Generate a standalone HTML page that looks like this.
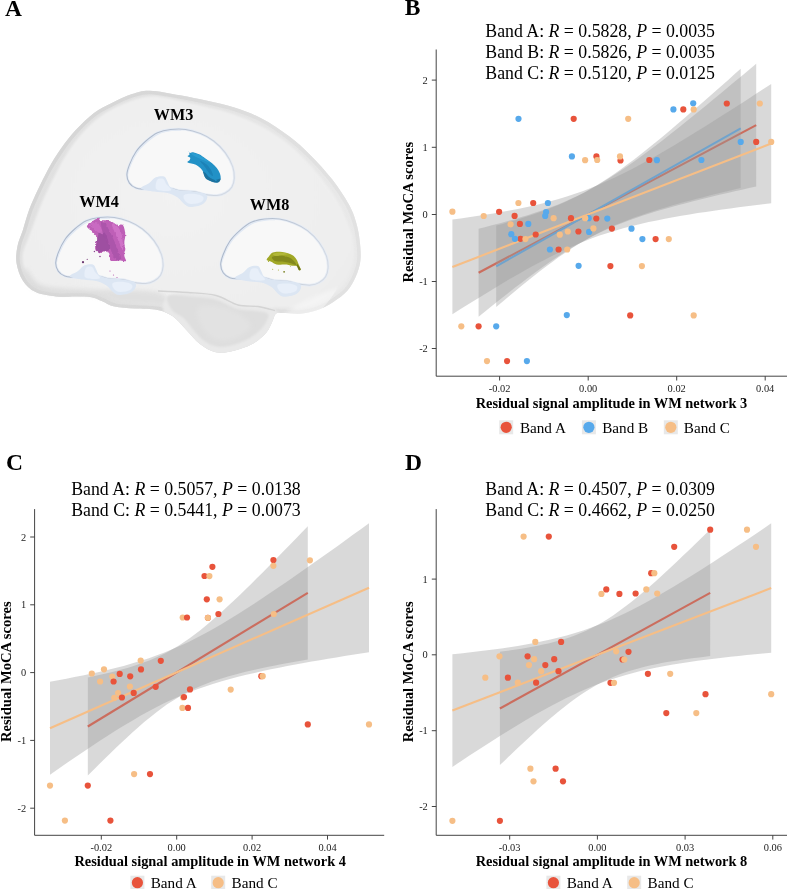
<!DOCTYPE html>
<html><head><meta charset="utf-8"><title>Figure</title>
<style>
html,body{margin:0;padding:0;background:#fff}
svg{display:block}
text{font-family:"Liberation Serif","Times New Roman",serif;fill:#000}
.tk{font-size:10.4px;fill:#1c1c1c}
.ax{font-size:14.6px;font-weight:bold}
.axx{font-size:14.4px;font-weight:bold}
.an{font-size:17.8px}
.it{font-style:italic}
.lg{font-size:15.2px}
.pl{font-size:23.5px;font-weight:bold}
.wm{font-size:16.2px;font-weight:bold}
</style></head><body>
<svg width="787" height="889" viewBox="0 0 787 889">
<rect width="787" height="889" fill="#fff"/>
<g id="panelA"><defs><filter id="bl1" x="-5%" y="-5%" width="110%" height="110%"><feGaussianBlur stdDeviation="1.3"/></filter><filter id="bl2" x="-10%" y="-20%" width="120%" height="140%"><feGaussianBlur stdDeviation="2.2"/></filter><filter id="bl3"><feGaussianBlur stdDeviation="0.5"/></filter><filter id="rg" x="-10%" y="-10%" width="120%" height="120%"><feTurbulence type="fractalNoise" baseFrequency="0.35" numOctaves="2" seed="3"/><feDisplacementMap in="SourceGraphic" scale="3.2" xChannelSelector="R" yChannelSelector="G"/></filter><filter id="rg2" x="-10%" y="-10%" width="120%" height="120%"><feTurbulence type="fractalNoise" baseFrequency="0.4" numOctaves="2" seed="7"/><feDisplacementMap in="SourceGraphic" scale="1.6" xChannelSelector="R" yChannelSelector="G"/></filter><radialGradient id="bg1" cx="0.45" cy="0.4" r="0.7"><stop offset="0" stop-color="#F2F2F2"/><stop offset="0.8" stop-color="#EEEEEE"/><stop offset="1" stop-color="#EAEAEA"/></radialGradient><linearGradient id="rimg" gradientUnits="userSpaceOnUse" x1="16" y1="0" x2="361" y2="0"><stop offset="0" stop-color="#D5D5D5"/><stop offset="0.45" stop-color="#D8D8D8"/><stop offset="0.75" stop-color="#DFDFDF"/><stop offset="1" stop-color="#E2E2E2"/></linearGradient><linearGradient id="bandg" gradientUnits="userSpaceOnUse" x1="16" y1="0" x2="361" y2="0"><stop offset="0" stop-color="#E0E0E0"/><stop offset="0.5" stop-color="#E2E2E2"/><stop offset="1" stop-color="#E9E9E9"/></linearGradient><linearGradient id="sbg" x1="0" y1="0.3" x2="1" y2="0.5"><stop offset="0" stop-color="#A9B5C7"/><stop offset="0.45" stop-color="#B9C3D2"/><stop offset="1" stop-color="#D3D9E2"/></linearGradient></defs><clipPath id="oc"><path d="M149.9 90.7C141.9 90.5 138.4 92.0 132.1 94.0C125.8 96.0 118.1 99.7 111.8 102.9C105.5 106.1 99.9 108.5 94.0 113.0C88.1 117.5 81.7 123.7 76.2 129.6C70.7 135.5 65.7 142.0 61.0 148.6C56.4 155.2 52.1 162.1 48.3 168.9C44.5 175.7 41.3 182.5 38.1 189.3C34.9 196.1 31.7 202.8 29.2 209.6C26.7 216.4 24.8 223.8 22.9 229.9C20.9 236.0 18.6 240.5 17.5 246.0C16.4 251.5 15.6 257.2 16.5 263.0C17.4 268.8 19.7 275.8 22.9 280.7C26.1 285.6 30.1 289.5 35.6 292.1C41.1 294.7 49.1 295.7 55.9 296.4C62.7 297.1 70.3 296.3 76.2 296.4C82.1 296.5 87.3 296.4 91.5 297.2C95.7 298.0 97.8 299.4 101.6 301.0C105.4 302.6 108.9 305.3 114.4 306.6C119.9 307.9 127.5 308.1 134.7 308.6C141.9 309.2 151.2 308.6 157.6 309.9C163.9 311.2 168.2 313.0 172.8 316.2C177.5 319.4 181.0 324.3 185.5 328.9C190.0 333.5 194.9 340.1 200.0 344.0C205.1 347.9 210.5 351.2 215.9 352.3C221.3 353.4 226.6 352.3 232.7 350.9C238.8 349.5 246.7 346.9 252.3 343.9C257.9 340.9 262.8 336.5 266.2 332.7C269.6 328.9 270.9 324.2 272.5 321.0C274.1 317.8 274.2 314.8 276.0 313.5C277.8 312.2 279.0 313.1 283.0 313.1C287.0 313.1 294.2 314.2 299.8 313.7C305.4 313.2 311.0 312.3 316.6 310.3C322.2 308.3 328.2 305.1 333.3 301.9C338.4 298.6 343.6 295.0 347.3 290.8C351.0 286.6 353.5 281.9 355.7 276.8C357.9 271.7 359.9 266.1 360.5 260.0C361.1 253.9 360.4 246.3 359.6 240.0C358.9 233.7 357.8 228.0 356.0 222.0C354.2 216.0 352.6 211.2 348.6 204.1C344.7 197.0 338.7 187.8 332.3 179.6C325.9 171.4 317.8 162.4 310.5 155.2C303.2 147.9 296.9 142.2 288.8 136.1C280.7 130.0 270.7 123.2 261.6 118.5C252.5 113.8 243.5 110.5 234.4 107.6C225.3 104.6 216.3 102.8 207.2 100.8C198.1 98.8 189.6 97.0 180.0 95.3C170.4 93.6 157.9 90.9 149.9 90.7Z"/></clipPath><path d="M149.9 90.7C141.9 90.5 138.4 92.0 132.1 94.0C125.8 96.0 118.1 99.7 111.8 102.9C105.5 106.1 99.9 108.5 94.0 113.0C88.1 117.5 81.7 123.7 76.2 129.6C70.7 135.5 65.7 142.0 61.0 148.6C56.4 155.2 52.1 162.1 48.3 168.9C44.5 175.7 41.3 182.5 38.1 189.3C34.9 196.1 31.7 202.8 29.2 209.6C26.7 216.4 24.8 223.8 22.9 229.9C20.9 236.0 18.6 240.5 17.5 246.0C16.4 251.5 15.6 257.2 16.5 263.0C17.4 268.8 19.7 275.8 22.9 280.7C26.1 285.6 30.1 289.5 35.6 292.1C41.1 294.7 49.1 295.7 55.9 296.4C62.7 297.1 70.3 296.3 76.2 296.4C82.1 296.5 87.3 296.4 91.5 297.2C95.7 298.0 97.8 299.4 101.6 301.0C105.4 302.6 108.9 305.3 114.4 306.6C119.9 307.9 127.5 308.1 134.7 308.6C141.9 309.2 151.2 308.6 157.6 309.9C163.9 311.2 168.2 313.0 172.8 316.2C177.5 319.4 181.0 324.3 185.5 328.9C190.0 333.5 194.9 340.1 200.0 344.0C205.1 347.9 210.5 351.2 215.9 352.3C221.3 353.4 226.6 352.3 232.7 350.9C238.8 349.5 246.7 346.9 252.3 343.9C257.9 340.9 262.8 336.5 266.2 332.7C269.6 328.9 270.9 324.2 272.5 321.0C274.1 317.8 274.2 314.8 276.0 313.5C277.8 312.2 279.0 313.1 283.0 313.1C287.0 313.1 294.2 314.2 299.8 313.7C305.4 313.2 311.0 312.3 316.6 310.3C322.2 308.3 328.2 305.1 333.3 301.9C338.4 298.6 343.6 295.0 347.3 290.8C351.0 286.6 353.5 281.9 355.7 276.8C357.9 271.7 359.9 266.1 360.5 260.0C361.1 253.9 360.4 246.3 359.6 240.0C358.9 233.7 357.8 228.0 356.0 222.0C354.2 216.0 352.6 211.2 348.6 204.1C344.7 197.0 338.7 187.8 332.3 179.6C325.9 171.4 317.8 162.4 310.5 155.2C303.2 147.9 296.9 142.2 288.8 136.1C280.7 130.0 270.7 123.2 261.6 118.5C252.5 113.8 243.5 110.5 234.4 107.6C225.3 104.6 216.3 102.8 207.2 100.8C198.1 98.8 189.6 97.0 180.0 95.3C170.4 93.6 157.9 90.9 149.9 90.7Z" fill="url(#bandg)"/><path d="M149.9 90.7C141.9 90.5 138.4 92.0 132.1 94.0C125.8 96.0 118.1 99.7 111.8 102.9C105.5 106.1 99.9 108.5 94.0 113.0C88.1 117.5 81.7 123.7 76.2 129.6C70.7 135.5 65.7 142.0 61.0 148.6C56.4 155.2 52.1 162.1 48.3 168.9C44.5 175.7 41.3 182.5 38.1 189.3C34.9 196.1 31.7 202.8 29.2 209.6C26.7 216.4 24.8 223.8 22.9 229.9C20.9 236.0 18.6 240.5 17.5 246.0C16.4 251.5 15.6 257.2 16.5 263.0C17.4 268.8 19.7 275.8 22.9 280.7C26.1 285.6 30.1 289.5 35.6 292.1C41.1 294.7 49.1 295.7 55.9 296.4C62.7 297.1 70.3 296.3 76.2 296.4C82.1 296.5 87.3 296.4 91.5 297.2C95.7 298.0 97.8 299.4 101.6 301.0C105.4 302.6 108.9 305.3 114.4 306.6C119.9 307.9 127.5 308.1 134.7 308.6C141.9 309.2 151.2 308.6 157.6 309.9C163.9 311.2 168.2 313.0 172.8 316.2C177.5 319.4 181.0 324.3 185.5 328.9C190.0 333.5 194.9 340.1 200.0 344.0C205.1 347.9 210.5 351.2 215.9 352.3C221.3 353.4 226.6 352.3 232.7 350.9C238.8 349.5 246.7 346.9 252.3 343.9C257.9 340.9 262.8 336.5 266.2 332.7C269.6 328.9 270.9 324.2 272.5 321.0C274.1 317.8 274.2 314.8 276.0 313.5C277.8 312.2 279.0 313.1 283.0 313.1C287.0 313.1 294.2 314.2 299.8 313.7C305.4 313.2 311.0 312.3 316.6 310.3C322.2 308.3 328.2 305.1 333.3 301.9C338.4 298.6 343.6 295.0 347.3 290.8C351.0 286.6 353.5 281.9 355.7 276.8C357.9 271.7 359.9 266.1 360.5 260.0C361.1 253.9 360.4 246.3 359.6 240.0C358.9 233.7 357.8 228.0 356.0 222.0C354.2 216.0 352.6 211.2 348.6 204.1C344.7 197.0 338.7 187.8 332.3 179.6C325.9 171.4 317.8 162.4 310.5 155.2C303.2 147.9 296.9 142.2 288.8 136.1C280.7 130.0 270.7 123.2 261.6 118.5C252.5 113.8 243.5 110.5 234.4 107.6C225.3 104.6 216.3 102.8 207.2 100.8C198.1 98.8 189.6 97.0 180.0 95.3C170.4 93.6 157.9 90.9 149.9 90.7Z" fill="none" stroke="url(#rimg)" stroke-width="7" clip-path="url(#oc)" filter="url(#bl3)"/><path d="M152.5 96.3C144.0 96.4 137.0 98.6 129.0 101.5C121.0 104.4 111.9 108.7 104.5 113.5C97.1 118.3 90.8 123.8 84.5 130.5C78.2 137.2 72.4 145.1 67.0 153.5C61.6 161.9 56.5 172.1 52.0 181.0C47.5 189.9 43.7 198.2 40.0 207.0C36.3 215.8 32.9 225.8 30.0 234.0C27.1 242.2 23.0 249.3 22.5 256.0C22.0 262.7 24.4 269.0 27.0 274.0C29.6 279.0 33.2 283.2 38.0 286.0C42.8 288.8 49.0 290.1 56.0 291.0C63.0 291.9 72.7 291.0 80.0 291.5C87.3 292.0 93.7 292.4 100.0 294.0C106.3 295.6 111.3 299.4 118.0 301.0C124.7 302.6 133.0 302.8 140.0 303.5C147.0 304.2 154.0 303.8 160.0 305.0C166.0 306.2 171.3 308.2 176.0 311.0C180.7 313.8 183.8 317.7 188.0 322.0C192.2 326.3 196.3 333.0 201.0 337.0C205.7 341.0 210.8 344.7 216.0 346.0C221.2 347.3 226.5 346.3 232.0 345.0C237.5 343.7 244.0 340.8 249.0 338.0C254.0 335.2 258.8 331.7 262.0 328.0C265.2 324.3 266.3 319.3 268.0 316.0C269.7 312.7 269.2 309.4 272.0 308.0C274.8 306.6 280.3 307.5 285.0 307.5C289.7 307.5 294.8 308.5 300.0 308.0C305.2 307.5 310.8 306.4 316.0 304.5C321.2 302.6 326.5 299.6 331.0 296.5C335.5 293.4 339.8 289.9 343.0 286.0C346.2 282.1 348.7 277.7 350.5 273.0C352.3 268.3 353.6 263.5 354.0 258.0C354.4 252.5 353.7 244.9 353.0 240.0C352.3 235.1 352.4 235.0 349.9 228.6C347.3 222.2 343.4 210.9 337.7 201.4C332.0 191.9 324.0 181.0 315.9 171.5C307.8 162.0 297.9 151.8 288.8 144.3C279.8 136.8 270.7 131.6 261.6 126.6C252.5 121.6 243.5 117.7 234.4 114.4C225.3 111.1 216.1 109.3 207.0 107.0C197.9 104.7 189.1 102.6 180.0 100.8C170.9 99.0 161.0 96.2 152.5 96.3Z" fill="url(#bg1)" filter="url(#bl1)"/><path d="M26.0 268.0C28.3 269.0 32.7 280.6 40.0 284.0C47.3 287.4 58.3 287.5 70.0 288.5C81.7 289.5 96.7 289.6 110.0 290.0C123.3 290.4 140.8 290.0 150.0 291.0C159.2 292.0 161.3 293.5 165.0 296.0C168.7 298.5 174.5 304.5 172.0 306.0C169.5 307.5 159.0 305.5 150.0 305.0C141.0 304.5 126.3 304.3 118.0 303.0C109.7 301.7 106.3 298.5 100.0 297.0C93.7 295.5 87.5 294.5 80.0 294.0C72.5 293.5 62.5 294.8 55.0 294.0C47.5 293.2 39.8 291.7 35.0 289.0C30.2 286.3 27.5 281.5 26.0 278.0C24.5 274.5 23.7 267.0 26.0 268.0Z" fill="#DCDCDC" filter="url(#bl2)" opacity="0.8"/><g clip-path="url(#oc)"><path d="M174.0 294.0C177.7 293.0 181.0 292.0 188.0 292.2C195.0 292.4 207.5 292.9 215.9 295.0C224.3 297.1 231.3 302.8 238.3 304.7C245.3 306.6 251.5 305.2 257.8 306.1C264.1 307.0 272.3 307.2 276.0 310.3C279.7 313.4 280.5 320.2 280.0 325.0C279.5 329.8 276.8 334.7 273.0 339.0C269.2 343.3 263.5 347.8 257.0 351.0C250.5 354.2 241.2 356.7 234.0 358.0C226.8 359.3 220.2 359.8 214.0 359.0C207.8 358.2 202.0 356.0 197.0 353.0C192.0 350.0 188.0 345.3 184.0 341.0C180.0 336.7 176.2 331.0 173.0 327.0C169.8 323.0 166.7 320.5 165.0 317.0C163.3 313.5 162.8 309.2 163.0 306.0C163.2 302.8 164.2 300.0 166.0 298.0C167.8 296.0 170.3 295.0 174.0 294.0Z" fill="#E9E9E9" filter="url(#bl1)"/><path d="M168.0 296.0C171.0 293.8 182.2 295.9 190.0 296.5C197.8 297.1 207.2 297.4 215.0 299.5C222.8 301.6 230.2 307.1 237.0 309.0C243.8 310.9 250.8 310.2 256.0 311.0C261.2 311.8 266.5 311.8 268.0 314.0C269.5 316.2 266.7 321.0 265.0 324.0C263.3 327.0 261.2 329.3 258.0 332.0C254.8 334.7 250.5 337.8 246.0 340.0C241.5 342.2 235.8 344.4 231.0 345.5C226.2 346.6 221.3 347.2 217.0 346.5C212.7 345.8 208.7 343.9 205.0 341.5C201.3 339.1 198.5 335.8 195.0 332.0C191.5 328.2 187.8 322.2 184.0 318.5C180.2 314.8 174.7 313.8 172.0 310.0C169.3 306.2 165.0 298.2 168.0 296.0Z" fill="#DEDEDE" filter="url(#bl1)"/><path d="M200.0 306.0C204.5 304.3 217.5 306.0 225.0 308.0C232.5 310.0 240.8 314.7 245.0 318.0C249.2 321.3 251.7 324.7 250.0 328.0C248.3 331.3 240.3 336.0 235.0 338.0C229.7 340.0 222.8 341.0 218.0 340.0C213.2 339.0 209.3 335.7 206.0 332.0C202.7 328.3 199.0 322.3 198.0 318.0C197.0 313.7 195.5 307.7 200.0 306.0Z" fill="#E2E2E2" filter="url(#bl2)"/></g><path d="M158.0 291.0C163.0 291.2 178.3 291.8 188.0 292.5C197.7 293.2 207.7 293.4 216.0 295.5C224.3 297.6 231.0 303.2 238.0 305.0C245.0 306.8 251.8 305.6 258.0 306.5C264.2 307.4 272.2 309.8 275.0 310.5" fill="none" stroke="#D4D4D4" stroke-width="1.3" filter="url(#bl3)"/><ellipse cx="322" cy="306" rx="44" ry="12" fill="#fff" opacity="0.4" filter="url(#bl2)" clip-path="url(#oc)" transform="rotate(-22 322 306)"/><g transform="translate(0,0)"><clipPath id="sc0"><path d="M55.7 262.9C55.7 259.9 56.7 256.8 58.2 252.9C59.7 249.0 62.0 243.7 64.8 239.7C67.5 235.7 71.1 232.2 74.7 229.0C78.3 225.8 82.2 222.6 86.3 220.7C90.4 218.8 94.8 217.9 99.5 217.4C104.2 216.9 109.5 216.7 114.4 217.4C119.4 218.1 124.5 219.7 129.2 221.6C133.9 223.5 138.4 225.8 142.5 229.0C146.6 232.2 150.8 236.3 154.0 240.6C157.2 244.9 160.0 250.3 161.5 254.6C163.0 258.9 163.2 262.8 163.1 266.2C162.9 269.6 162.1 272.7 160.6 275.2C159.1 277.7 156.5 279.6 154.0 281.0C151.5 282.4 149.1 283.2 145.8 283.5C142.5 283.8 137.9 283.1 134.0 282.5C130.1 281.9 126.7 280.2 122.6 279.6C118.5 279.0 113.2 279.3 109.4 278.8C105.6 278.3 103.1 276.7 99.5 276.5C95.9 276.3 92.4 277.4 88.0 277.5C83.6 277.6 77.0 277.4 73.1 277.2C69.2 277.0 67.3 277.1 64.8 276.1C62.3 275.1 59.7 273.3 58.2 271.1C56.7 268.9 55.7 265.9 55.7 262.9Z"/></clipPath><path d="M55.7 262.9C55.7 259.9 56.7 256.8 58.2 252.9C59.7 249.0 62.0 243.7 64.8 239.7C67.5 235.7 71.1 232.2 74.7 229.0C78.3 225.8 82.2 222.6 86.3 220.7C90.4 218.8 94.8 217.9 99.5 217.4C104.2 216.9 109.5 216.7 114.4 217.4C119.4 218.1 124.5 219.7 129.2 221.6C133.9 223.5 138.4 225.8 142.5 229.0C146.6 232.2 150.8 236.3 154.0 240.6C157.2 244.9 160.0 250.3 161.5 254.6C163.0 258.9 163.2 262.8 163.1 266.2C162.9 269.6 162.1 272.7 160.6 275.2C159.1 277.7 156.5 279.6 154.0 281.0C151.5 282.4 149.1 283.2 145.8 283.5C142.5 283.8 137.9 283.1 134.0 282.5C130.1 281.9 126.7 280.2 122.6 279.6C118.5 279.0 113.2 279.3 109.4 278.8C105.6 278.3 103.1 276.7 99.5 276.5C95.9 276.3 92.4 277.4 88.0 277.5C83.6 277.6 77.0 277.4 73.1 277.2C69.2 277.0 67.3 277.1 64.8 276.1C62.3 275.1 59.7 273.3 58.2 271.1C56.7 268.9 55.7 265.9 55.7 262.9Z" fill="#DDE6F3"/><g clip-path="url(#sc0)"><path d="M55.7 262.9C55.7 259.9 56.7 256.8 58.2 252.9C59.7 249.0 62.0 243.7 64.8 239.7C67.5 235.7 71.1 232.2 74.7 229.0C78.3 225.8 82.2 222.6 86.3 220.7C90.4 218.8 94.8 217.9 99.5 217.4C104.2 216.9 109.5 216.7 114.4 217.4C119.4 218.1 124.5 219.7 129.2 221.6C133.9 223.5 138.4 225.8 142.5 229.0C146.6 232.2 150.8 236.3 154.0 240.6C157.2 244.9 160.0 250.3 161.5 254.6C163.0 258.9 163.2 262.8 163.1 266.2C162.9 269.6 162.1 272.7 160.6 275.2C159.1 277.7 156.5 279.6 154.0 281.0C151.5 282.4 149.1 283.2 145.8 283.5C142.5 283.8 137.9 283.1 134.0 282.5C130.1 281.9 126.7 280.2 122.6 279.6C118.5 279.0 113.2 279.3 109.4 278.8C105.6 278.3 103.1 276.7 99.5 276.5C95.9 276.3 92.4 277.4 88.0 277.5C83.6 277.6 77.0 277.4 73.1 277.2C69.2 277.0 67.3 277.1 64.8 276.1C62.3 275.1 59.7 273.3 58.2 271.1C56.7 268.9 55.7 265.9 55.7 262.9Z" fill="#F8F8F8" transform="translate(1.1,1.7)" filter="url(#bl3)"/><rect x="110" y="210" width="60" height="80" fill="#F8F8F8"/><rect x="50" y="262" width="120" height="30" fill="#F8F8F8"/></g><path d="M55.7 262.9C55.7 259.9 56.7 256.8 58.2 252.9C59.7 249.0 62.0 243.7 64.8 239.7C67.5 235.7 71.1 232.2 74.7 229.0C78.3 225.8 82.2 222.6 86.3 220.7C90.4 218.8 94.8 217.9 99.5 217.4C104.2 216.9 109.5 216.7 114.4 217.4C119.4 218.1 124.5 219.7 129.2 221.6C133.9 223.5 138.4 225.8 142.5 229.0C146.6 232.2 150.8 236.3 154.0 240.6C157.2 244.9 160.0 250.3 161.5 254.6C163.0 258.9 163.2 262.8 163.1 266.2C162.9 269.6 162.1 272.7 160.6 275.2C159.1 277.7 156.5 279.6 154.0 281.0C151.5 282.4 149.1 283.2 145.8 283.5C142.5 283.8 137.9 283.1 134.0 282.5C130.1 281.9 126.7 280.2 122.6 279.6C118.5 279.0 113.2 279.3 109.4 278.8C105.6 278.3 103.1 276.7 99.5 276.5C95.9 276.3 92.4 277.4 88.0 277.5C83.6 277.6 77.0 277.4 73.1 277.2C69.2 277.0 67.3 277.1 64.8 276.1C62.3 275.1 59.7 273.3 58.2 271.1C56.7 268.9 55.7 265.9 55.7 262.9Z" fill="none" stroke="#E6ECF5" stroke-width="2.6" filter="url(#bl3)"/><path d="M55.7 262.9C55.7 259.9 56.7 256.8 58.2 252.9C59.7 249.0 62.0 243.7 64.8 239.7C67.5 235.7 71.1 232.2 74.7 229.0C78.3 225.8 82.2 222.6 86.3 220.7C90.4 218.8 94.8 217.9 99.5 217.4C104.2 216.9 109.5 216.7 114.4 217.4C119.4 218.1 124.5 219.7 129.2 221.6C133.9 223.5 138.4 225.8 142.5 229.0C146.6 232.2 150.8 236.3 154.0 240.6C157.2 244.9 160.0 250.3 161.5 254.6C163.0 258.9 163.2 262.8 163.1 266.2C162.9 269.6 162.1 272.7 160.6 275.2C159.1 277.7 156.5 279.6 154.0 281.0C151.5 282.4 149.1 283.2 145.8 283.5C142.5 283.8 137.9 283.1 134.0 282.5C130.1 281.9 126.7 280.2 122.6 279.6C118.5 279.0 113.2 279.3 109.4 278.8C105.6 278.3 103.1 276.7 99.5 276.5C95.9 276.3 92.4 277.4 88.0 277.5C83.6 277.6 77.0 277.4 73.1 277.2C69.2 277.0 67.3 277.1 64.8 276.1C62.3 275.1 59.7 273.3 58.2 271.1C56.7 268.9 55.7 265.9 55.7 262.9Z" fill="none" stroke="url(#sbg)" stroke-width="1.05"/><path d="M69.8 276.4C69.0 275.0 75.5 273.0 78.0 271.1C80.5 269.2 82.1 266.4 84.6 265.3C87.1 264.2 91.0 263.8 92.9 264.5C94.8 265.2 95.1 267.7 96.2 269.5C97.3 271.3 97.3 273.7 99.5 275.2C101.7 276.7 105.6 277.8 109.4 278.5C113.2 279.2 118.5 278.8 122.6 279.4C126.7 280.0 132.0 280.7 134.2 281.9C136.4 283.1 136.4 285.0 135.8 286.8C135.2 288.6 133.7 291.2 130.9 292.6C128.2 294.0 122.3 295.2 119.3 295.1C116.3 295.0 114.9 293.5 112.7 291.8C110.5 290.1 108.8 287.0 106.1 285.2C103.3 283.4 100.0 281.9 96.2 281.0C92.4 280.1 87.4 280.4 83.0 279.6C78.6 278.8 70.6 277.8 69.8 276.4Z" fill="#DCE6F3" filter="url(#bl3)"/><path d="M86.0 268.0C87.2 266.3 90.5 266.3 92.0 267.0C93.5 267.7 93.7 270.2 95.0 272.0C96.3 273.8 100.3 276.8 100.0 278.0C99.7 279.2 95.5 279.2 93.0 279.0C90.5 278.8 86.2 278.8 85.0 277.0C83.8 275.2 84.8 269.7 86.0 268.0Z" fill="#E8EFF9" filter="url(#bl3)"/><path d="M113.0 283.0C114.7 281.8 120.8 281.7 124.0 282.0C127.2 282.3 131.0 283.7 132.0 285.0C133.0 286.3 132.0 288.8 130.0 290.0C128.0 291.2 122.7 292.2 120.0 292.0C117.3 291.8 115.2 290.5 114.0 289.0C112.8 287.5 111.3 284.2 113.0 283.0Z" fill="#E8EFF9" filter="url(#bl3)"/></g><g transform="translate(71.2,-88)"><clipPath id="sc71"><path d="M55.7 262.9C55.7 259.9 56.7 256.8 58.2 252.9C59.7 249.0 62.0 243.7 64.8 239.7C67.5 235.7 71.1 232.2 74.7 229.0C78.3 225.8 82.2 222.6 86.3 220.7C90.4 218.8 94.8 217.9 99.5 217.4C104.2 216.9 109.5 216.7 114.4 217.4C119.4 218.1 124.5 219.7 129.2 221.6C133.9 223.5 138.4 225.8 142.5 229.0C146.6 232.2 150.8 236.3 154.0 240.6C157.2 244.9 160.0 250.3 161.5 254.6C163.0 258.9 163.2 262.8 163.1 266.2C162.9 269.6 162.1 272.7 160.6 275.2C159.1 277.7 156.5 279.6 154.0 281.0C151.5 282.4 149.1 283.2 145.8 283.5C142.5 283.8 137.9 283.1 134.0 282.5C130.1 281.9 126.7 280.2 122.6 279.6C118.5 279.0 113.2 279.3 109.4 278.8C105.6 278.3 103.1 276.7 99.5 276.5C95.9 276.3 92.4 277.4 88.0 277.5C83.6 277.6 77.0 277.4 73.1 277.2C69.2 277.0 67.3 277.1 64.8 276.1C62.3 275.1 59.7 273.3 58.2 271.1C56.7 268.9 55.7 265.9 55.7 262.9Z"/></clipPath><path d="M55.7 262.9C55.7 259.9 56.7 256.8 58.2 252.9C59.7 249.0 62.0 243.7 64.8 239.7C67.5 235.7 71.1 232.2 74.7 229.0C78.3 225.8 82.2 222.6 86.3 220.7C90.4 218.8 94.8 217.9 99.5 217.4C104.2 216.9 109.5 216.7 114.4 217.4C119.4 218.1 124.5 219.7 129.2 221.6C133.9 223.5 138.4 225.8 142.5 229.0C146.6 232.2 150.8 236.3 154.0 240.6C157.2 244.9 160.0 250.3 161.5 254.6C163.0 258.9 163.2 262.8 163.1 266.2C162.9 269.6 162.1 272.7 160.6 275.2C159.1 277.7 156.5 279.6 154.0 281.0C151.5 282.4 149.1 283.2 145.8 283.5C142.5 283.8 137.9 283.1 134.0 282.5C130.1 281.9 126.7 280.2 122.6 279.6C118.5 279.0 113.2 279.3 109.4 278.8C105.6 278.3 103.1 276.7 99.5 276.5C95.9 276.3 92.4 277.4 88.0 277.5C83.6 277.6 77.0 277.4 73.1 277.2C69.2 277.0 67.3 277.1 64.8 276.1C62.3 275.1 59.7 273.3 58.2 271.1C56.7 268.9 55.7 265.9 55.7 262.9Z" fill="#DDE6F3"/><g clip-path="url(#sc71)"><path d="M55.7 262.9C55.7 259.9 56.7 256.8 58.2 252.9C59.7 249.0 62.0 243.7 64.8 239.7C67.5 235.7 71.1 232.2 74.7 229.0C78.3 225.8 82.2 222.6 86.3 220.7C90.4 218.8 94.8 217.9 99.5 217.4C104.2 216.9 109.5 216.7 114.4 217.4C119.4 218.1 124.5 219.7 129.2 221.6C133.9 223.5 138.4 225.8 142.5 229.0C146.6 232.2 150.8 236.3 154.0 240.6C157.2 244.9 160.0 250.3 161.5 254.6C163.0 258.9 163.2 262.8 163.1 266.2C162.9 269.6 162.1 272.7 160.6 275.2C159.1 277.7 156.5 279.6 154.0 281.0C151.5 282.4 149.1 283.2 145.8 283.5C142.5 283.8 137.9 283.1 134.0 282.5C130.1 281.9 126.7 280.2 122.6 279.6C118.5 279.0 113.2 279.3 109.4 278.8C105.6 278.3 103.1 276.7 99.5 276.5C95.9 276.3 92.4 277.4 88.0 277.5C83.6 277.6 77.0 277.4 73.1 277.2C69.2 277.0 67.3 277.1 64.8 276.1C62.3 275.1 59.7 273.3 58.2 271.1C56.7 268.9 55.7 265.9 55.7 262.9Z" fill="#F8F8F8" transform="translate(1.1,1.7)" filter="url(#bl3)"/><rect x="110" y="210" width="60" height="80" fill="#F8F8F8"/><rect x="50" y="262" width="120" height="30" fill="#F8F8F8"/></g><path d="M55.7 262.9C55.7 259.9 56.7 256.8 58.2 252.9C59.7 249.0 62.0 243.7 64.8 239.7C67.5 235.7 71.1 232.2 74.7 229.0C78.3 225.8 82.2 222.6 86.3 220.7C90.4 218.8 94.8 217.9 99.5 217.4C104.2 216.9 109.5 216.7 114.4 217.4C119.4 218.1 124.5 219.7 129.2 221.6C133.9 223.5 138.4 225.8 142.5 229.0C146.6 232.2 150.8 236.3 154.0 240.6C157.2 244.9 160.0 250.3 161.5 254.6C163.0 258.9 163.2 262.8 163.1 266.2C162.9 269.6 162.1 272.7 160.6 275.2C159.1 277.7 156.5 279.6 154.0 281.0C151.5 282.4 149.1 283.2 145.8 283.5C142.5 283.8 137.9 283.1 134.0 282.5C130.1 281.9 126.7 280.2 122.6 279.6C118.5 279.0 113.2 279.3 109.4 278.8C105.6 278.3 103.1 276.7 99.5 276.5C95.9 276.3 92.4 277.4 88.0 277.5C83.6 277.6 77.0 277.4 73.1 277.2C69.2 277.0 67.3 277.1 64.8 276.1C62.3 275.1 59.7 273.3 58.2 271.1C56.7 268.9 55.7 265.9 55.7 262.9Z" fill="none" stroke="#E6ECF5" stroke-width="2.6" filter="url(#bl3)"/><path d="M55.7 262.9C55.7 259.9 56.7 256.8 58.2 252.9C59.7 249.0 62.0 243.7 64.8 239.7C67.5 235.7 71.1 232.2 74.7 229.0C78.3 225.8 82.2 222.6 86.3 220.7C90.4 218.8 94.8 217.9 99.5 217.4C104.2 216.9 109.5 216.7 114.4 217.4C119.4 218.1 124.5 219.7 129.2 221.6C133.9 223.5 138.4 225.8 142.5 229.0C146.6 232.2 150.8 236.3 154.0 240.6C157.2 244.9 160.0 250.3 161.5 254.6C163.0 258.9 163.2 262.8 163.1 266.2C162.9 269.6 162.1 272.7 160.6 275.2C159.1 277.7 156.5 279.6 154.0 281.0C151.5 282.4 149.1 283.2 145.8 283.5C142.5 283.8 137.9 283.1 134.0 282.5C130.1 281.9 126.7 280.2 122.6 279.6C118.5 279.0 113.2 279.3 109.4 278.8C105.6 278.3 103.1 276.7 99.5 276.5C95.9 276.3 92.4 277.4 88.0 277.5C83.6 277.6 77.0 277.4 73.1 277.2C69.2 277.0 67.3 277.1 64.8 276.1C62.3 275.1 59.7 273.3 58.2 271.1C56.7 268.9 55.7 265.9 55.7 262.9Z" fill="none" stroke="url(#sbg)" stroke-width="1.05"/><path d="M69.8 276.4C69.0 275.0 75.5 273.0 78.0 271.1C80.5 269.2 82.1 266.4 84.6 265.3C87.1 264.2 91.0 263.8 92.9 264.5C94.8 265.2 95.1 267.7 96.2 269.5C97.3 271.3 97.3 273.7 99.5 275.2C101.7 276.7 105.6 277.8 109.4 278.5C113.2 279.2 118.5 278.8 122.6 279.4C126.7 280.0 132.0 280.7 134.2 281.9C136.4 283.1 136.4 285.0 135.8 286.8C135.2 288.6 133.7 291.2 130.9 292.6C128.2 294.0 122.3 295.2 119.3 295.1C116.3 295.0 114.9 293.5 112.7 291.8C110.5 290.1 108.8 287.0 106.1 285.2C103.3 283.4 100.0 281.9 96.2 281.0C92.4 280.1 87.4 280.4 83.0 279.6C78.6 278.8 70.6 277.8 69.8 276.4Z" fill="#DCE6F3" filter="url(#bl3)"/><path d="M86.0 268.0C87.2 266.3 90.5 266.3 92.0 267.0C93.5 267.7 93.7 270.2 95.0 272.0C96.3 273.8 100.3 276.8 100.0 278.0C99.7 279.2 95.5 279.2 93.0 279.0C90.5 278.8 86.2 278.8 85.0 277.0C83.8 275.2 84.8 269.7 86.0 268.0Z" fill="#E8EFF9" filter="url(#bl3)"/><path d="M113.0 283.0C114.7 281.8 120.8 281.7 124.0 282.0C127.2 282.3 131.0 283.7 132.0 285.0C133.0 286.3 132.0 288.8 130.0 290.0C128.0 291.2 122.7 292.2 120.0 292.0C117.3 291.8 115.2 290.5 114.0 289.0C112.8 287.5 111.3 284.2 113.0 283.0Z" fill="#E8EFF9" filter="url(#bl3)"/></g><g transform="translate(165,1.6)"><clipPath id="sc165"><path d="M55.7 262.9C55.7 259.9 56.7 256.8 58.2 252.9C59.7 249.0 62.0 243.7 64.8 239.7C67.5 235.7 71.1 232.2 74.7 229.0C78.3 225.8 82.2 222.6 86.3 220.7C90.4 218.8 94.8 217.9 99.5 217.4C104.2 216.9 109.5 216.7 114.4 217.4C119.4 218.1 124.5 219.7 129.2 221.6C133.9 223.5 138.4 225.8 142.5 229.0C146.6 232.2 150.8 236.3 154.0 240.6C157.2 244.9 160.0 250.3 161.5 254.6C163.0 258.9 163.2 262.8 163.1 266.2C162.9 269.6 162.1 272.7 160.6 275.2C159.1 277.7 156.5 279.6 154.0 281.0C151.5 282.4 149.1 283.2 145.8 283.5C142.5 283.8 137.9 283.1 134.0 282.5C130.1 281.9 126.7 280.2 122.6 279.6C118.5 279.0 113.2 279.3 109.4 278.8C105.6 278.3 103.1 276.7 99.5 276.5C95.9 276.3 92.4 277.4 88.0 277.5C83.6 277.6 77.0 277.4 73.1 277.2C69.2 277.0 67.3 277.1 64.8 276.1C62.3 275.1 59.7 273.3 58.2 271.1C56.7 268.9 55.7 265.9 55.7 262.9Z"/></clipPath><path d="M55.7 262.9C55.7 259.9 56.7 256.8 58.2 252.9C59.7 249.0 62.0 243.7 64.8 239.7C67.5 235.7 71.1 232.2 74.7 229.0C78.3 225.8 82.2 222.6 86.3 220.7C90.4 218.8 94.8 217.9 99.5 217.4C104.2 216.9 109.5 216.7 114.4 217.4C119.4 218.1 124.5 219.7 129.2 221.6C133.9 223.5 138.4 225.8 142.5 229.0C146.6 232.2 150.8 236.3 154.0 240.6C157.2 244.9 160.0 250.3 161.5 254.6C163.0 258.9 163.2 262.8 163.1 266.2C162.9 269.6 162.1 272.7 160.6 275.2C159.1 277.7 156.5 279.6 154.0 281.0C151.5 282.4 149.1 283.2 145.8 283.5C142.5 283.8 137.9 283.1 134.0 282.5C130.1 281.9 126.7 280.2 122.6 279.6C118.5 279.0 113.2 279.3 109.4 278.8C105.6 278.3 103.1 276.7 99.5 276.5C95.9 276.3 92.4 277.4 88.0 277.5C83.6 277.6 77.0 277.4 73.1 277.2C69.2 277.0 67.3 277.1 64.8 276.1C62.3 275.1 59.7 273.3 58.2 271.1C56.7 268.9 55.7 265.9 55.7 262.9Z" fill="#DDE6F3"/><g clip-path="url(#sc165)"><path d="M55.7 262.9C55.7 259.9 56.7 256.8 58.2 252.9C59.7 249.0 62.0 243.7 64.8 239.7C67.5 235.7 71.1 232.2 74.7 229.0C78.3 225.8 82.2 222.6 86.3 220.7C90.4 218.8 94.8 217.9 99.5 217.4C104.2 216.9 109.5 216.7 114.4 217.4C119.4 218.1 124.5 219.7 129.2 221.6C133.9 223.5 138.4 225.8 142.5 229.0C146.6 232.2 150.8 236.3 154.0 240.6C157.2 244.9 160.0 250.3 161.5 254.6C163.0 258.9 163.2 262.8 163.1 266.2C162.9 269.6 162.1 272.7 160.6 275.2C159.1 277.7 156.5 279.6 154.0 281.0C151.5 282.4 149.1 283.2 145.8 283.5C142.5 283.8 137.9 283.1 134.0 282.5C130.1 281.9 126.7 280.2 122.6 279.6C118.5 279.0 113.2 279.3 109.4 278.8C105.6 278.3 103.1 276.7 99.5 276.5C95.9 276.3 92.4 277.4 88.0 277.5C83.6 277.6 77.0 277.4 73.1 277.2C69.2 277.0 67.3 277.1 64.8 276.1C62.3 275.1 59.7 273.3 58.2 271.1C56.7 268.9 55.7 265.9 55.7 262.9Z" fill="#F8F8F8" transform="translate(1.1,1.7)" filter="url(#bl3)"/><rect x="110" y="210" width="60" height="80" fill="#F8F8F8"/><rect x="50" y="262" width="120" height="30" fill="#F8F8F8"/></g><path d="M55.7 262.9C55.7 259.9 56.7 256.8 58.2 252.9C59.7 249.0 62.0 243.7 64.8 239.7C67.5 235.7 71.1 232.2 74.7 229.0C78.3 225.8 82.2 222.6 86.3 220.7C90.4 218.8 94.8 217.9 99.5 217.4C104.2 216.9 109.5 216.7 114.4 217.4C119.4 218.1 124.5 219.7 129.2 221.6C133.9 223.5 138.4 225.8 142.5 229.0C146.6 232.2 150.8 236.3 154.0 240.6C157.2 244.9 160.0 250.3 161.5 254.6C163.0 258.9 163.2 262.8 163.1 266.2C162.9 269.6 162.1 272.7 160.6 275.2C159.1 277.7 156.5 279.6 154.0 281.0C151.5 282.4 149.1 283.2 145.8 283.5C142.5 283.8 137.9 283.1 134.0 282.5C130.1 281.9 126.7 280.2 122.6 279.6C118.5 279.0 113.2 279.3 109.4 278.8C105.6 278.3 103.1 276.7 99.5 276.5C95.9 276.3 92.4 277.4 88.0 277.5C83.6 277.6 77.0 277.4 73.1 277.2C69.2 277.0 67.3 277.1 64.8 276.1C62.3 275.1 59.7 273.3 58.2 271.1C56.7 268.9 55.7 265.9 55.7 262.9Z" fill="none" stroke="#E6ECF5" stroke-width="2.6" filter="url(#bl3)"/><path d="M55.7 262.9C55.7 259.9 56.7 256.8 58.2 252.9C59.7 249.0 62.0 243.7 64.8 239.7C67.5 235.7 71.1 232.2 74.7 229.0C78.3 225.8 82.2 222.6 86.3 220.7C90.4 218.8 94.8 217.9 99.5 217.4C104.2 216.9 109.5 216.7 114.4 217.4C119.4 218.1 124.5 219.7 129.2 221.6C133.9 223.5 138.4 225.8 142.5 229.0C146.6 232.2 150.8 236.3 154.0 240.6C157.2 244.9 160.0 250.3 161.5 254.6C163.0 258.9 163.2 262.8 163.1 266.2C162.9 269.6 162.1 272.7 160.6 275.2C159.1 277.7 156.5 279.6 154.0 281.0C151.5 282.4 149.1 283.2 145.8 283.5C142.5 283.8 137.9 283.1 134.0 282.5C130.1 281.9 126.7 280.2 122.6 279.6C118.5 279.0 113.2 279.3 109.4 278.8C105.6 278.3 103.1 276.7 99.5 276.5C95.9 276.3 92.4 277.4 88.0 277.5C83.6 277.6 77.0 277.4 73.1 277.2C69.2 277.0 67.3 277.1 64.8 276.1C62.3 275.1 59.7 273.3 58.2 271.1C56.7 268.9 55.7 265.9 55.7 262.9Z" fill="none" stroke="url(#sbg)" stroke-width="1.05"/><path d="M69.8 276.4C69.0 275.0 75.5 273.0 78.0 271.1C80.5 269.2 82.1 266.4 84.6 265.3C87.1 264.2 91.0 263.8 92.9 264.5C94.8 265.2 95.1 267.7 96.2 269.5C97.3 271.3 97.3 273.7 99.5 275.2C101.7 276.7 105.6 277.8 109.4 278.5C113.2 279.2 118.5 278.8 122.6 279.4C126.7 280.0 132.0 280.7 134.2 281.9C136.4 283.1 136.4 285.0 135.8 286.8C135.2 288.6 133.7 291.2 130.9 292.6C128.2 294.0 122.3 295.2 119.3 295.1C116.3 295.0 114.9 293.5 112.7 291.8C110.5 290.1 108.8 287.0 106.1 285.2C103.3 283.4 100.0 281.9 96.2 281.0C92.4 280.1 87.4 280.4 83.0 279.6C78.6 278.8 70.6 277.8 69.8 276.4Z" fill="#DCE6F3" filter="url(#bl3)"/><path d="M86.0 268.0C87.2 266.3 90.5 266.3 92.0 267.0C93.5 267.7 93.7 270.2 95.0 272.0C96.3 273.8 100.3 276.8 100.0 278.0C99.7 279.2 95.5 279.2 93.0 279.0C90.5 278.8 86.2 278.8 85.0 277.0C83.8 275.2 84.8 269.7 86.0 268.0Z" fill="#E8EFF9" filter="url(#bl3)"/><path d="M113.0 283.0C114.7 281.8 120.8 281.7 124.0 282.0C127.2 282.3 131.0 283.7 132.0 285.0C133.0 286.3 132.0 288.8 130.0 290.0C128.0 291.2 122.7 292.2 120.0 292.0C117.3 291.8 115.2 290.5 114.0 289.0C112.8 287.5 111.3 284.2 113.0 283.0Z" fill="#E8EFF9" filter="url(#bl3)"/></g><g filter="url(#rg)"><path d="M86.9 225.9C87.2 224.9 89.2 223.8 90.8 222.7C92.4 221.6 94.7 219.5 96.5 219.1C98.3 218.7 99.6 220.0 101.5 220.2C103.4 220.4 105.9 220.1 107.9 220.5C109.9 220.9 111.9 221.9 113.6 222.7C115.2 223.5 116.4 224.9 117.8 225.2C119.2 225.5 121.0 224.0 122.1 224.5C123.2 225.0 123.8 226.6 124.3 228.4C124.8 230.2 125.3 233.1 125.3 235.5C125.3 237.9 124.3 240.3 124.3 242.6C124.3 244.8 125.3 246.9 125.3 249.0C125.3 251.1 124.2 253.4 124.3 255.4C124.4 257.4 126.6 260.3 126.0 261.1C125.4 261.9 122.5 260.4 120.7 260.4C118.9 260.4 116.7 261.1 115.0 261.1C113.3 261.1 111.3 261.2 110.4 260.4C109.5 259.6 110.0 257.4 109.7 256.1C109.4 254.8 109.6 253.4 108.6 252.6C107.6 251.8 105.1 251.4 103.6 251.5C102.0 251.6 100.6 253.6 99.3 253.3C98.0 253.0 96.5 251.1 95.8 249.7C95.1 248.3 94.9 246.3 95.1 244.7C95.3 243.0 97.2 241.5 97.2 239.8C97.2 238.2 95.9 236.2 95.1 234.8C94.3 233.4 93.3 232.2 92.2 231.2C91.1 230.2 89.6 229.6 88.7 228.7C87.8 227.8 86.6 226.9 86.9 225.9Z" fill="#BE5FB7"/><path d="M99.0 233.0C100.2 231.5 102.5 230.8 104.0 232.0C105.5 233.2 107.2 237.0 108.0 240.0C108.8 243.0 109.7 248.2 109.0 250.0C108.3 251.8 105.7 250.7 104.0 251.0C102.3 251.3 100.3 252.5 99.0 252.0C97.7 251.5 96.3 249.8 96.0 248.0C95.7 246.2 96.5 243.5 97.0 241.0C97.5 238.5 97.8 234.5 99.0 233.0Z" fill="#8A4593" opacity="0.6" filter="url(#bl3)"/><path d="M101.0 223.0C101.3 221.2 104.2 222.8 106.0 225.0C107.8 227.2 110.2 232.2 112.0 236.0C113.8 239.8 115.7 244.2 117.0 248.0C118.3 251.8 120.3 257.2 120.0 259.0C119.7 260.8 116.7 260.8 115.0 259.0C113.3 257.2 111.8 251.8 110.0 248.0C108.2 244.2 105.5 240.2 104.0 236.0C102.5 231.8 100.7 224.8 101.0 223.0Z" fill="#A04EA4" opacity="0.6"/><path d="M112.0 224.0C112.5 223.0 116.3 225.0 118.0 227.0C119.7 229.0 121.2 232.2 122.0 236.0C122.8 239.8 123.5 249.0 123.0 250.0C122.5 251.0 120.3 244.8 119.0 242.0C117.7 239.2 116.2 236.0 115.0 233.0C113.8 230.0 111.5 225.0 112.0 224.0Z" fill="#D276CA" opacity="0.85"/><path d="M90.0 225.0C90.3 223.8 94.3 221.8 96.0 222.0C97.7 222.2 98.8 224.0 100.0 226.0C101.2 228.0 103.3 233.0 103.0 234.0C102.7 235.0 99.5 232.8 98.0 232.0C96.5 231.2 95.3 230.2 94.0 229.0C92.7 227.8 89.7 226.2 90.0 225.0Z" fill="#CC6EC4" opacity="0.8"/></g><circle cx="83" cy="262.2" r="1.1" fill="#6A356F"/><circle cx="87.2" cy="259.3" r="0.6" fill="#7A3A7A"/><circle cx="100" cy="256.5" r="0.8" fill="#8A4590"/><circle cx="94.4" cy="251.5" r="0.7" fill="#8A4590"/><circle cx="110" cy="271" r="0.6" fill="#B95CB1"/><circle cx="113.5" cy="275" r="0.6" fill="#B95CB1"/><circle cx="117" cy="277.5" r="0.6" fill="#B95CB1"/><g filter="url(#rg2)"><path d="M188.6 151.1C188.7 150.8 189.0 152.7 189.8 152.9C190.7 153.1 192.1 152.2 193.7 152.4C195.2 152.6 197.1 153.3 199.1 154.3C201.1 155.3 203.3 157.0 205.4 158.4C207.5 159.8 209.9 161.3 211.8 162.9C213.7 164.5 215.5 166.3 216.8 168.0C218.1 169.7 219.0 171.3 219.7 173.0C220.3 174.7 220.8 176.6 220.7 178.1C220.5 179.6 219.9 181.2 218.8 181.9C217.7 182.6 216.0 182.5 214.3 182.2C212.6 181.9 210.1 180.8 208.6 180.0C207.1 179.2 205.9 178.8 205.1 177.5C204.2 176.2 204.3 174.0 203.5 172.4C202.7 170.8 201.6 169.3 200.3 168.0C199.0 166.7 197.4 165.6 195.9 164.8C194.4 164.1 192.8 163.9 191.4 163.5C190.0 163.1 187.6 162.7 187.3 162.2C187.0 161.7 189.0 161.0 189.5 160.3C190.0 159.6 190.5 158.5 190.2 157.8C189.9 157.1 187.7 156.7 187.6 156.2C187.5 155.7 189.3 155.4 189.5 154.6C189.7 153.8 188.5 151.4 188.6 151.1Z" fill="#2291C6"/><path d="M203.0 172.0C203.0 172.8 204.5 176.6 205.5 178.0C206.5 179.4 207.5 179.8 209.0 180.5C210.5 181.2 212.8 182.2 214.5 182.5C216.2 182.8 218.0 182.7 219.0 182.0C220.0 181.3 221.2 178.8 220.5 178.5C219.8 178.2 216.9 180.2 215.0 180.0C213.1 179.8 210.6 178.2 209.0 177.0C207.4 175.8 206.5 173.8 205.5 173.0C204.5 172.2 203.0 171.2 203.0 172.0Z" fill="#1A6C98" opacity="0.85"/><path d="M200.0 161.0C200.2 160.5 204.2 162.5 206.0 164.0C207.8 165.5 209.8 168.0 211.0 170.0C212.2 172.0 213.3 175.5 213.0 176.0C212.7 176.5 210.3 174.5 209.0 173.0C207.7 171.5 206.5 169.0 205.0 167.0C203.5 165.0 199.8 161.5 200.0 161.0Z" fill="#1D7EB3" opacity="0.8"/><path d="M191.0 153.5C191.2 153.0 194.8 153.2 197.0 154.0C199.2 154.8 201.8 156.6 204.0 158.0C206.2 159.4 210.2 162.2 210.0 162.5C209.8 162.8 205.3 160.9 203.0 160.0C200.7 159.1 198.0 158.1 196.0 157.0C194.0 155.9 190.8 154.0 191.0 153.5Z" fill="#2FA0D4" opacity="0.8"/></g><g filter="url(#rg2)"><path d="M266.7 259.4C266.9 258.7 268.0 257.6 268.9 256.5C269.8 255.4 270.5 253.8 271.8 253.0C273.1 252.2 274.8 252.0 276.5 251.8C278.2 251.7 280.3 251.8 282.2 252.1C284.1 252.3 286.2 252.7 288.0 253.3C289.8 253.9 291.6 254.6 293.0 255.6C294.4 256.6 295.3 257.9 296.2 259.1C297.1 260.3 297.5 261.6 298.1 262.9C298.7 264.2 299.3 265.6 299.7 266.7C300.1 267.8 300.8 268.9 300.7 269.5C300.6 270.1 299.6 270.7 299.1 270.2C298.6 269.7 298.3 267.4 297.5 266.7C296.7 265.9 295.5 265.9 294.3 265.7C293.1 265.5 291.8 265.6 290.5 265.4C289.2 265.2 288.1 264.6 286.7 264.5C285.3 264.4 283.6 264.4 282.2 264.5C280.8 264.6 279.7 264.9 278.4 264.8C277.1 264.7 275.9 264.3 274.6 263.8C273.3 263.3 272.0 262.1 270.8 261.6C269.6 261.1 268.3 261.0 267.6 260.6C266.9 260.2 266.5 260.1 266.7 259.4Z" fill="#A1A827"/><path d="M272.0 257.0C272.7 256.1 276.3 255.5 279.0 255.5C281.7 255.5 285.5 256.1 288.0 257.0C290.5 257.9 292.7 259.7 294.0 261.0C295.3 262.3 296.7 264.7 296.0 265.0C295.3 265.3 292.3 263.6 290.0 263.0C287.7 262.4 284.5 261.8 282.0 261.5C279.5 261.2 276.7 261.8 275.0 261.0C273.3 260.2 271.3 257.9 272.0 257.0Z" fill="#767C18" opacity="0.7"/><path d="M273.0 254.0C273.7 253.4 277.5 252.5 280.0 252.5C282.5 252.5 287.5 253.6 288.0 254.0C288.5 254.4 285.0 254.7 283.0 255.0C281.0 255.3 277.7 256.2 276.0 256.0C274.3 255.8 272.3 254.6 273.0 254.0Z" fill="#B6BC3C" opacity="0.8"/><path d="M297.0 264.0C297.4 264.0 298.9 266.1 299.5 267.0C300.1 267.9 300.8 269.2 300.7 269.7C300.6 270.2 299.6 270.6 299.0 270.2C298.4 269.8 297.6 268.0 297.3 267.0C297.0 266.0 296.6 264.0 297.0 264.0Z" fill="#6E7414"/></g><circle cx="284.1" cy="271.8" r="0.9" fill="#7A8020"/><circle cx="272.7" cy="269.2" r="0.5" fill="#A1A827"/><circle cx="278.4" cy="269.9" r="0.5" fill="#A1A827"/><text x="153.8" y="120.2" class="wm">WM3</text><text x="79.3" y="207.4" class="wm">WM4</text><text x="249.7" y="210.4" class="wm">WM8</text><text x="5" y="15.7" class="pl">A</text></g>
<g id="panelB"><polygon points="478.6,228.7 485.7,226.9 492.8,225.1 500.0,223.2 507.1,221.2 514.2,219.2 521.3,217.1 528.4,214.9 535.5,212.6 542.7,210.2 549.8,207.6 556.9,204.9 564.0,202.0 571.1,198.8 578.3,195.5 585.4,191.9 592.5,188.1 599.6,184.1 606.7,179.8 613.8,175.3 621.0,170.6 628.1,165.7 635.2,160.7 642.3,155.5 649.4,150.2 656.5,144.9 663.7,139.4 670.8,133.8 677.9,128.2 685.0,122.5 692.1,116.8 699.3,111.0 706.4,105.2 713.5,99.3 720.6,93.4 727.7,87.5 734.8,81.6 742.0,75.7 749.1,69.7 756.2,63.7 756.2,186.5 749.1,188.1 742.0,189.7 734.8,191.3 727.7,193.0 720.6,194.6 713.5,196.3 706.4,198.0 699.3,199.8 692.1,201.6 685.0,203.4 677.9,205.3 670.8,207.2 663.7,209.3 656.5,211.3 649.4,213.5 642.3,215.8 635.2,218.2 628.1,220.7 621.0,223.4 613.8,226.3 606.7,229.4 599.6,232.7 592.5,236.2 585.4,240.0 578.3,244.0 571.1,248.2 564.0,252.6 556.9,257.3 549.8,262.1 542.7,267.1 535.5,272.2 528.4,277.5 521.3,282.9 514.2,288.3 507.1,293.9 500.0,299.5 492.8,305.2 485.7,310.9 478.6,316.7" fill="#999" fill-opacity="0.375"/><line x1="478.6" y1="272.7" x2="756.2" y2="125.1" stroke="#E8533B" stroke-width="2.1"/><polygon points="496.2,225.6 502.5,223.9 508.7,222.1 515.0,220.2 521.3,218.3 527.5,216.3 533.8,214.2 540.1,212.0 546.4,209.7 552.6,207.3 558.9,204.8 565.2,202.0 571.4,199.1 577.7,196.0 584.0,192.7 590.2,189.2 596.5,185.5 602.8,181.6 609.0,177.5 615.3,173.2 621.6,168.7 627.9,164.1 634.1,159.4 640.4,154.5 646.7,149.6 652.9,144.5 659.2,139.4 665.5,134.2 671.7,128.9 678.0,123.6 684.3,118.2 690.5,112.8 696.8,107.4 703.1,102.0 709.4,96.5 715.6,91.0 721.9,85.4 728.2,79.9 734.4,74.3 740.7,68.7 740.7,187.9 734.4,189.4 728.2,190.9 721.9,192.5 715.6,194.0 709.4,195.6 703.1,197.2 696.8,198.8 690.5,200.4 684.3,202.1 678.0,203.8 671.7,205.6 665.5,207.4 659.2,209.3 652.9,211.2 646.7,213.3 640.4,215.4 634.1,217.6 627.9,219.9 621.6,222.4 615.3,225.0 609.0,227.8 602.8,230.8 596.5,233.9 590.2,237.3 584.0,240.9 577.7,244.6 571.4,248.6 565.2,252.8 558.9,257.1 552.6,261.7 546.4,266.3 540.1,271.1 533.8,276.0 527.5,281.0 521.3,286.1 515.0,291.2 508.7,296.4 502.5,301.7 496.2,307.0" fill="#999" fill-opacity="0.375"/><line x1="496.2" y1="266.3" x2="740.7" y2="128.3" stroke="#57A9EB" stroke-width="2.1"/><polygon points="452.4,219.6 460.6,218.5 468.7,217.3 476.9,216.0 485.1,214.7 493.3,213.4 501.4,212.0 509.6,210.5 517.8,208.9 526.0,207.2 534.1,205.4 542.3,203.4 550.5,201.3 558.7,199.0 566.8,196.5 575.0,193.8 583.2,190.9 591.4,187.8 599.5,184.4 607.7,180.8 615.9,177.0 624.1,173.0 632.2,168.9 640.4,164.5 648.6,160.0 656.8,155.4 664.9,150.7 673.1,145.9 681.3,141.0 689.5,136.0 697.6,131.0 705.8,125.9 714.0,120.8 722.2,115.6 730.3,110.4 738.5,105.2 746.7,99.9 754.9,94.6 763.0,89.3 771.2,84.0 771.2,203.3 763.0,204.2 754.9,205.3 746.7,206.3 738.5,207.3 730.3,208.4 722.2,209.6 714.0,210.7 705.8,211.9 697.6,213.1 689.5,214.4 681.3,215.8 673.1,217.2 664.9,218.8 656.8,220.4 648.6,222.1 640.4,223.9 632.2,225.9 624.1,228.1 615.9,230.4 607.7,232.9 599.5,235.6 591.4,238.6 583.2,241.8 575.0,245.2 566.8,248.8 558.7,252.7 550.5,256.7 542.3,260.9 534.1,265.3 526.0,269.8 517.8,274.4 509.6,279.1 501.4,284.0 493.3,288.9 485.1,293.9 476.9,298.9 468.7,304.0 460.6,309.1 452.4,314.3" fill="#999" fill-opacity="0.375"/><line x1="452.4" y1="267.0" x2="771.2" y2="143.6" stroke="#F6BE86" stroke-width="2.1"/><circle cx="499.1" cy="211.8" r="3.1" fill="#E8533B"/><circle cx="533.2" cy="203.0" r="3.1" fill="#E8533B"/><circle cx="514.6" cy="215.9" r="3.1" fill="#E8533B"/><circle cx="571.0" cy="218.2" r="3.1" fill="#E8533B"/><circle cx="596.3" cy="218.5" r="3.1" fill="#E8533B"/><circle cx="519.9" cy="223.9" r="3.1" fill="#E8533B"/><circle cx="520.5" cy="238.8" r="3.1" fill="#E8533B"/><circle cx="535.7" cy="234.5" r="3.1" fill="#E8533B"/><circle cx="578.4" cy="231.5" r="3.1" fill="#E8533B"/><circle cx="611.9" cy="228.6" r="3.1" fill="#E8533B"/><circle cx="558.6" cy="249.5" r="3.1" fill="#E8533B"/><circle cx="610.4" cy="266.1" r="3.1" fill="#E8533B"/><circle cx="630.2" cy="315.4" r="3.1" fill="#E8533B"/><circle cx="478.6" cy="326.3" r="3.1" fill="#E8533B"/><circle cx="507.1" cy="361.1" r="3.1" fill="#E8533B"/><circle cx="683.3" cy="109.4" r="3.1" fill="#E8533B"/><circle cx="726.8" cy="103.5" r="3.1" fill="#E8533B"/><circle cx="756.2" cy="141.9" r="3.1" fill="#E8533B"/><circle cx="596.4" cy="156.4" r="3.1" fill="#E8533B"/><circle cx="620.5" cy="160.5" r="3.1" fill="#E8533B"/><circle cx="649.3" cy="160.0" r="3.1" fill="#E8533B"/><circle cx="655.6" cy="239.1" r="3.1" fill="#E8533B"/><circle cx="573.7" cy="118.8" r="3.1" fill="#E8533B"/><circle cx="547.9" cy="203.0" r="3.1" fill="#57A9EB"/><circle cx="546.1" cy="212.1" r="3.1" fill="#57A9EB"/><circle cx="545.2" cy="215.9" r="3.1" fill="#57A9EB"/><circle cx="528.3" cy="223.9" r="3.1" fill="#57A9EB"/><circle cx="511.3" cy="234.2" r="3.1" fill="#57A9EB"/><circle cx="514.9" cy="238.8" r="3.1" fill="#57A9EB"/><circle cx="589.1" cy="231.9" r="3.1" fill="#57A9EB"/><circle cx="549.9" cy="249.5" r="3.1" fill="#57A9EB"/><circle cx="578.6" cy="265.8" r="3.1" fill="#57A9EB"/><circle cx="566.8" cy="315.1" r="3.1" fill="#57A9EB"/><circle cx="496.2" cy="326.3" r="3.1" fill="#57A9EB"/><circle cx="526.9" cy="361.1" r="3.1" fill="#57A9EB"/><circle cx="673.4" cy="109.4" r="3.1" fill="#57A9EB"/><circle cx="693.2" cy="103.3" r="3.1" fill="#57A9EB"/><circle cx="740.7" cy="141.9" r="3.1" fill="#57A9EB"/><circle cx="656.9" cy="160.2" r="3.1" fill="#57A9EB"/><circle cx="701.4" cy="160.0" r="3.1" fill="#57A9EB"/><circle cx="607.3" cy="218.6" r="3.1" fill="#57A9EB"/><circle cx="631.5" cy="228.7" r="3.1" fill="#57A9EB"/><circle cx="642.4" cy="239.1" r="3.1" fill="#57A9EB"/><circle cx="588.7" cy="218.2" r="3.1" fill="#57A9EB"/><circle cx="518.5" cy="118.8" r="3.1" fill="#57A9EB"/><circle cx="571.9" cy="156.4" r="3.1" fill="#57A9EB"/><circle cx="452.4" cy="211.7" r="3.1" fill="#F6BE86"/><circle cx="483.7" cy="216.0" r="3.1" fill="#F6BE86"/><circle cx="518.4" cy="203.0" r="3.1" fill="#F6BE86"/><circle cx="553.6" cy="218.2" r="3.1" fill="#F6BE86"/><circle cx="585.2" cy="218.2" r="3.1" fill="#F6BE86"/><circle cx="510.6" cy="224.3" r="3.1" fill="#F6BE86"/><circle cx="525.4" cy="239.1" r="3.1" fill="#F6BE86"/><circle cx="559.8" cy="234.7" r="3.1" fill="#F6BE86"/><circle cx="567.8" cy="231.5" r="3.1" fill="#F6BE86"/><circle cx="593.4" cy="228.4" r="3.1" fill="#F6BE86"/><circle cx="567.2" cy="249.5" r="3.1" fill="#F6BE86"/><circle cx="641.9" cy="266.1" r="3.1" fill="#F6BE86"/><circle cx="693.7" cy="315.4" r="3.1" fill="#F6BE86"/><circle cx="461.3" cy="326.3" r="3.1" fill="#F6BE86"/><circle cx="487.0" cy="361.1" r="3.1" fill="#F6BE86"/><circle cx="628.2" cy="118.8" r="3.1" fill="#F6BE86"/><circle cx="693.7" cy="109.4" r="3.1" fill="#F6BE86"/><circle cx="759.8" cy="103.5" r="3.1" fill="#F6BE86"/><circle cx="771.2" cy="141.9" r="3.1" fill="#F6BE86"/><circle cx="597.2" cy="160.0" r="3.1" fill="#F6BE86"/><circle cx="620.0" cy="156.4" r="3.1" fill="#F6BE86"/><circle cx="668.8" cy="239.1" r="3.1" fill="#F6BE86"/><circle cx="585.1" cy="160.2" r="3.1" fill="#F6BE86"/><path d="M436.2 49.5V376.2H787" fill="none" stroke="#3a3a3a" stroke-width="0.95"/><line x1="499.6" y1="376.2" x2="499.6" y2="380.5" stroke="#3a3a3a" stroke-width="0.95"/><text x="499.6" y="391.7" class="tk" text-anchor="middle">-0.02</text><line x1="588.2" y1="376.2" x2="588.2" y2="380.5" stroke="#3a3a3a" stroke-width="0.95"/><text x="588.2" y="391.7" class="tk" text-anchor="middle">0.00</text><line x1="676.7" y1="376.2" x2="676.7" y2="380.5" stroke="#3a3a3a" stroke-width="0.95"/><text x="676.7" y="391.7" class="tk" text-anchor="middle">0.02</text><line x1="765.2" y1="376.2" x2="765.2" y2="380.5" stroke="#3a3a3a" stroke-width="0.95"/><text x="765.2" y="391.7" class="tk" text-anchor="middle">0.04</text><line x1="431.8" y1="80.1" x2="436.2" y2="80.1" stroke="#3a3a3a" stroke-width="0.95"/><text x="427.8" y="83.6" class="tk" text-anchor="end">2</text><line x1="431.8" y1="147.3" x2="436.2" y2="147.3" stroke="#3a3a3a" stroke-width="0.95"/><text x="427.8" y="150.8" class="tk" text-anchor="end">1</text><line x1="431.8" y1="214.5" x2="436.2" y2="214.5" stroke="#3a3a3a" stroke-width="0.95"/><text x="427.8" y="218.0" class="tk" text-anchor="end">0</text><line x1="431.8" y1="281.5" x2="436.2" y2="281.5" stroke="#3a3a3a" stroke-width="0.95"/><text x="427.8" y="285.0" class="tk" text-anchor="end">-1</text><line x1="431.8" y1="348.5" x2="436.2" y2="348.5" stroke="#3a3a3a" stroke-width="0.95"/><text x="427.8" y="352.0" class="tk" text-anchor="end">-2</text><text x="611.5" y="407.8" class="axx" text-anchor="middle">Residual signal amplitude in WM network 3</text><text transform="translate(413.2,212.2) rotate(-90)" class="ax" text-anchor="middle">Residual MoCA scores</text><text x="485.3" y="37.1" class="an">Band A: <tspan class="it">R</tspan> = 0.5828, <tspan class="it">P</tspan> = 0.0035</text><text x="485.3" y="57.9" class="an">Band B: <tspan class="it">R</tspan> = 0.5826, <tspan class="it">P</tspan> = 0.0035</text><text x="485.3" y="78.8" class="an">Band C: <tspan class="it">R</tspan> = 0.5120, <tspan class="it">P</tspan> = 0.0125</text><rect x="499.2" y="420.3" width="14" height="14" fill="#E8E8E8"/><circle cx="506.2" cy="427.3" r="5.6" fill="#E8533B"/><text x="519.9" y="432.9" class="lg">Band A</text><rect x="581.9" y="420.3" width="14" height="14" fill="#E8E8E8"/><circle cx="588.9" cy="427.3" r="5.6" fill="#57A9EB"/><text x="602.2" y="432.9" class="lg">Band B</text><rect x="663.8" y="420.3" width="14" height="14" fill="#E8E8E8"/><circle cx="670.8" cy="427.3" r="5.6" fill="#F6BE86"/><text x="683.8" y="432.9" class="lg">Band C</text><text x="404.7" y="15.3" class="pl">B</text></g>
<g id="panelC"><polygon points="87.8,677.5 93.4,676.3 99.1,675.1 104.7,673.8 110.4,672.4 116.0,671.0 121.6,669.5 127.3,667.9 132.9,666.2 138.6,664.3 144.2,662.3 149.9,660.2 155.5,657.8 161.1,655.2 166.8,652.4 172.4,649.3 178.1,646.0 183.7,642.3 189.3,638.4 195.0,634.3 200.6,629.9 206.3,625.3 211.9,620.6 217.5,615.6 223.2,610.5 228.8,605.3 234.5,600.0 240.1,594.7 245.7,589.2 251.4,583.7 257.0,578.1 262.7,572.4 268.3,566.7 274.0,561.0 279.6,555.3 285.2,549.5 290.9,543.7 296.5,537.9 302.2,532.0 307.8,526.2 307.8,659.4 302.2,660.4 296.5,661.4 290.9,662.4 285.2,663.5 279.6,664.6 274.0,665.7 268.3,666.8 262.7,668.0 257.0,669.2 251.4,670.5 245.7,671.8 240.1,673.2 234.5,674.7 228.8,676.2 223.2,677.9 217.5,679.7 211.9,681.6 206.3,683.7 200.6,686.0 195.0,688.5 189.3,691.2 183.7,694.1 178.1,697.4 172.4,700.9 166.8,704.6 161.1,708.7 155.5,713.0 149.9,717.4 144.2,722.1 138.6,727.0 132.9,732.0 127.3,737.2 121.6,742.4 116.0,747.8 110.4,753.2 104.7,758.7 99.1,764.3 93.4,769.9 87.8,775.6" fill="#999" fill-opacity="0.375"/><line x1="87.8" y1="726.5" x2="307.8" y2="592.8" stroke="#E8533B" stroke-width="2.1"/><polygon points="50.0,681.8 58.2,680.3 66.4,678.7 74.5,677.1 82.7,675.5 90.9,673.8 99.1,671.9 107.3,670.0 115.4,668.0 123.6,665.9 131.8,663.6 140.0,661.1 148.2,658.4 156.3,655.6 164.5,652.5 172.7,649.1 180.9,645.5 189.1,641.7 197.2,637.6 205.4,633.2 213.6,628.7 221.8,623.9 229.9,619.0 238.1,614.0 246.3,608.8 254.5,603.5 262.7,598.1 270.8,592.6 279.0,587.1 287.2,581.4 295.4,575.8 303.6,570.1 311.7,564.3 319.9,558.5 328.1,552.7 336.3,546.9 344.5,541.0 352.6,535.1 360.8,529.2 369.0,523.3 369.0,652.2 360.8,653.5 352.6,654.8 344.5,656.1 336.3,657.4 328.1,658.8 319.9,660.2 311.7,661.6 303.6,663.0 295.4,664.5 287.2,666.1 279.0,667.7 270.8,669.3 262.7,671.1 254.5,672.9 246.3,674.8 238.1,676.8 229.9,678.9 221.8,681.2 213.6,683.7 205.4,686.4 197.2,689.2 189.1,692.3 180.9,695.7 172.7,699.3 164.5,703.1 156.3,707.2 148.2,711.6 140.0,716.1 131.8,720.9 123.6,725.8 115.4,730.8 107.3,736.0 99.1,741.3 90.9,746.7 82.7,752.2 74.5,757.7 66.4,763.3 58.2,769.0 50.0,774.7" fill="#999" fill-opacity="0.375"/><line x1="50.0" y1="728.2" x2="369.0" y2="587.7" stroke="#F6BE86" stroke-width="2.1"/><circle cx="50.0" cy="785.6" r="3.1" fill="#F6BE86"/><circle cx="64.9" cy="820.6" r="3.1" fill="#F6BE86"/><circle cx="87.8" cy="785.6" r="3.1" fill="#E8533B"/><circle cx="91.8" cy="673.5" r="3.1" fill="#F6BE86"/><circle cx="100.1" cy="681.5" r="3.1" fill="#F6BE86"/><circle cx="104.0" cy="669.3" r="3.1" fill="#F6BE86"/><circle cx="110.4" cy="820.6" r="3.1" fill="#E8533B"/><circle cx="112.3" cy="676.6" r="3.1" fill="#F6BE86"/><circle cx="113.6" cy="681.5" r="3.1" fill="#E8533B"/><circle cx="114.3" cy="697.9" r="3.1" fill="#F6BE86"/><circle cx="118.1" cy="693.1" r="3.1" fill="#F6BE86"/><circle cx="119.7" cy="673.9" r="3.1" fill="#E8533B"/><circle cx="121.9" cy="697.5" r="3.1" fill="#E8533B"/><circle cx="129.9" cy="686.5" r="3.1" fill="#F6BE86"/><circle cx="130.2" cy="676.3" r="3.1" fill="#E8533B"/><circle cx="133.7" cy="692.9" r="3.1" fill="#E8533B"/><circle cx="134.1" cy="774.1" r="3.1" fill="#F6BE86"/><circle cx="140.7" cy="660.6" r="3.1" fill="#F6BE86"/><circle cx="141.0" cy="669.4" r="3.1" fill="#E8533B"/><circle cx="150.0" cy="774.1" r="3.1" fill="#E8533B"/><circle cx="155.7" cy="686.8" r="3.1" fill="#E8533B"/><circle cx="160.8" cy="660.8" r="3.1" fill="#E8533B"/><circle cx="182.4" cy="707.9" r="3.1" fill="#F6BE86"/><circle cx="182.7" cy="617.5" r="3.1" fill="#F6BE86"/><circle cx="183.2" cy="697.5" r="3.1" fill="#F6BE86"/><circle cx="184.0" cy="697.0" r="3.1" fill="#E8533B"/><circle cx="187.0" cy="617.5" r="3.1" fill="#E8533B"/><circle cx="188.0" cy="707.9" r="3.1" fill="#E8533B"/><circle cx="190.0" cy="689.4" r="3.1" fill="#E8533B"/><circle cx="204.5" cy="576.0" r="3.1" fill="#E8533B"/><circle cx="206.8" cy="599.3" r="3.1" fill="#E8533B"/><circle cx="207.9" cy="617.8" r="3.1" fill="#E8533B"/><circle cx="207.9" cy="617.8" r="3.1" fill="#F6BE86"/><circle cx="209.4" cy="576.1" r="3.1" fill="#F6BE86"/><circle cx="212.4" cy="566.8" r="3.1" fill="#E8533B"/><circle cx="218.4" cy="614.0" r="3.1" fill="#E8533B"/><circle cx="219.6" cy="599.3" r="3.1" fill="#F6BE86"/><circle cx="230.7" cy="689.6" r="3.1" fill="#F6BE86"/><circle cx="261.3" cy="676.2" r="3.1" fill="#E8533B"/><circle cx="262.7" cy="676.2" r="3.1" fill="#F6BE86"/><circle cx="273.4" cy="560.1" r="3.1" fill="#E8533B"/><circle cx="273.4" cy="565.8" r="3.1" fill="#F6BE86"/><circle cx="273.8" cy="614.0" r="3.1" fill="#F6BE86"/><circle cx="307.8" cy="724.4" r="3.1" fill="#E8533B"/><circle cx="309.9" cy="560.3" r="3.1" fill="#F6BE86"/><circle cx="369.0" cy="724.4" r="3.1" fill="#F6BE86"/><path d="M34.6 509.1V835.3H384.2" fill="none" stroke="#3a3a3a" stroke-width="0.95"/><line x1="101.3" y1="835.3" x2="101.3" y2="839.6" stroke="#3a3a3a" stroke-width="0.95"/><text x="101.3" y="850.8" class="tk" text-anchor="middle">-0.02</text><line x1="176.7" y1="835.3" x2="176.7" y2="839.6" stroke="#3a3a3a" stroke-width="0.95"/><text x="176.7" y="850.8" class="tk" text-anchor="middle">0.00</text><line x1="252.1" y1="835.3" x2="252.1" y2="839.6" stroke="#3a3a3a" stroke-width="0.95"/><text x="252.1" y="850.8" class="tk" text-anchor="middle">0.02</text><line x1="327.5" y1="835.3" x2="327.5" y2="839.6" stroke="#3a3a3a" stroke-width="0.95"/><text x="327.5" y="850.8" class="tk" text-anchor="middle">0.04</text><line x1="30.2" y1="537" x2="34.6" y2="537" stroke="#3a3a3a" stroke-width="0.95"/><text x="26.2" y="540.5" class="tk" text-anchor="end">2</text><line x1="30.2" y1="604.8" x2="34.6" y2="604.8" stroke="#3a3a3a" stroke-width="0.95"/><text x="26.2" y="608.3" class="tk" text-anchor="end">1</text><line x1="30.2" y1="672.6" x2="34.6" y2="672.6" stroke="#3a3a3a" stroke-width="0.95"/><text x="26.2" y="676.1" class="tk" text-anchor="end">0</text><line x1="30.2" y1="740.4" x2="34.6" y2="740.4" stroke="#3a3a3a" stroke-width="0.95"/><text x="26.2" y="743.9" class="tk" text-anchor="end">-1</text><line x1="30.2" y1="808.2" x2="34.6" y2="808.2" stroke="#3a3a3a" stroke-width="0.95"/><text x="26.2" y="811.7" class="tk" text-anchor="end">-2</text><text x="210.2" y="866.3" class="axx" text-anchor="middle">Residual signal amplitude in WM network 4</text><text transform="translate(10.6,671.7) rotate(-90)" class="ax" text-anchor="middle">Residual MoCA scores</text><text x="71.2" y="495.4" class="an">Band A: <tspan class="it">R</tspan> = 0.5057, <tspan class="it">P</tspan> = 0.0138</text><text x="71.2" y="516.2" class="an">Band C: <tspan class="it">R</tspan> = 0.5441, <tspan class="it">P</tspan> = 0.0073</text><rect x="130.4" y="875.7" width="14" height="14" fill="#E8E8E8"/><circle cx="137.4" cy="882.7" r="5.6" fill="#E8533B"/><text x="150.7" y="887.6" class="lg">Band A</text><rect x="211.2" y="875.7" width="14" height="14" fill="#E8E8E8"/><circle cx="218.2" cy="882.7" r="5.6" fill="#F6BE86"/><text x="231.6" y="887.6" class="lg">Band C</text><text x="6" y="469.9" class="pl">C</text></g>
<g id="panelD"><polygon points="499.9,651.8 505.3,651.1 510.7,650.3 516.1,649.5 521.5,648.7 526.9,647.8 532.3,646.8 537.6,645.8 543.0,644.6 548.4,643.4 553.8,642.1 559.2,640.6 564.6,639.0 570.0,637.2 575.4,635.3 580.8,633.1 586.2,630.7 591.6,628.1 597.0,625.3 602.4,622.2 607.7,618.9 613.1,615.4 618.5,611.6 623.9,607.6 629.3,603.5 634.7,599.2 640.1,594.8 645.5,590.2 650.9,585.5 656.3,580.7 661.7,575.8 667.1,570.8 672.5,565.8 677.8,560.7 683.2,555.6 688.6,550.4 694.0,545.2 699.4,540.0 704.8,534.7 710.2,529.4 710.2,656.1 704.8,656.8 699.4,657.4 694.0,658.1 688.6,658.8 683.2,659.6 677.8,660.4 672.5,661.2 667.1,662.1 661.7,663.1 656.3,664.2 650.9,665.3 645.5,666.6 640.1,667.9 634.7,669.4 629.3,671.0 623.9,672.8 618.5,674.8 613.1,677.0 607.7,679.4 602.4,682.0 597.0,684.8 591.6,687.9 586.2,691.3 580.8,694.8 575.4,698.6 570.0,702.6 564.6,706.7 559.2,711.1 553.8,715.5 548.4,720.1 543.0,724.8 537.6,729.6 532.3,734.5 526.9,739.5 521.5,744.5 516.1,749.6 510.7,754.7 505.3,759.9 499.9,765.1" fill="#999" fill-opacity="0.375"/><line x1="499.9" y1="708.5" x2="710.2" y2="592.8" stroke="#E8533B" stroke-width="2.1"/><polygon points="452.4,654.2 460.6,653.4 468.7,652.5 476.9,651.5 485.1,650.6 493.3,649.5 501.4,648.4 509.6,647.2 517.8,645.9 526.0,644.5 534.1,643.0 542.3,641.3 550.5,639.5 558.7,637.6 566.8,635.4 575.0,633.0 583.2,630.4 591.4,627.6 599.5,624.5 607.7,621.2 615.9,617.6 624.1,613.8 632.2,609.7 640.4,605.5 648.6,601.1 656.8,596.5 664.9,591.8 673.1,587.0 681.3,582.0 689.5,577.0 697.6,571.9 705.8,566.7 714.0,561.4 722.2,556.1 730.3,550.7 738.5,545.3 746.7,539.9 754.9,534.4 763.0,528.9 771.2,523.3 771.2,652.8 763.0,653.5 754.9,654.3 746.7,655.1 738.5,655.9 730.3,656.8 722.2,657.7 714.0,658.7 705.8,659.7 697.6,660.8 689.5,661.9 681.3,663.2 673.1,664.5 664.9,665.9 656.8,667.5 648.6,669.2 640.4,671.1 632.2,673.2 624.1,675.4 615.9,677.9 607.7,680.6 599.5,683.5 591.4,686.7 583.2,690.2 575.0,693.9 566.8,697.8 558.7,701.9 550.5,706.2 542.3,710.7 534.1,715.3 526.0,720.1 517.8,725.0 509.6,730.0 501.4,735.0 493.3,740.2 485.1,745.4 476.9,750.7 468.7,756.1 460.6,761.4 452.4,766.9" fill="#999" fill-opacity="0.375"/><line x1="452.4" y1="710.6" x2="771.2" y2="588.1" stroke="#F6BE86" stroke-width="2.1"/><circle cx="452.4" cy="820.8" r="3.1" fill="#F6BE86"/><circle cx="485.3" cy="677.7" r="3.1" fill="#F6BE86"/><circle cx="499.5" cy="656.3" r="3.1" fill="#F6BE86"/><circle cx="499.9" cy="820.8" r="3.1" fill="#E8533B"/><circle cx="507.9" cy="677.7" r="3.1" fill="#E8533B"/><circle cx="517.8" cy="682.7" r="3.1" fill="#F6BE86"/><circle cx="523.6" cy="536.6" r="3.1" fill="#F6BE86"/><circle cx="527.6" cy="656.3" r="3.1" fill="#E8533B"/><circle cx="529.0" cy="665.1" r="3.1" fill="#F6BE86"/><circle cx="530.4" cy="768.7" r="3.1" fill="#F6BE86"/><circle cx="533.5" cy="781.3" r="3.1" fill="#F6BE86"/><circle cx="534.1" cy="659.2" r="3.1" fill="#F6BE86"/><circle cx="535.3" cy="641.9" r="3.1" fill="#F6BE86"/><circle cx="536.1" cy="682.7" r="3.1" fill="#E8533B"/><circle cx="541.2" cy="671.2" r="3.1" fill="#F6BE86"/><circle cx="545.3" cy="665.1" r="3.1" fill="#E8533B"/><circle cx="548.8" cy="536.6" r="3.1" fill="#E8533B"/><circle cx="554.2" cy="659.2" r="3.1" fill="#E8533B"/><circle cx="555.6" cy="768.7" r="3.1" fill="#E8533B"/><circle cx="558.5" cy="671.2" r="3.1" fill="#E8533B"/><circle cx="561.1" cy="641.9" r="3.1" fill="#E8533B"/><circle cx="563.0" cy="781.3" r="3.1" fill="#E8533B"/><circle cx="601.4" cy="593.9" r="3.1" fill="#F6BE86"/><circle cx="606.3" cy="589.4" r="3.1" fill="#E8533B"/><circle cx="610.5" cy="682.8" r="3.1" fill="#E8533B"/><circle cx="614.0" cy="682.8" r="3.1" fill="#F6BE86"/><circle cx="616.2" cy="651.3" r="3.1" fill="#F6BE86"/><circle cx="619.4" cy="593.9" r="3.1" fill="#E8533B"/><circle cx="622.5" cy="659.5" r="3.1" fill="#E8533B"/><circle cx="624.3" cy="659.5" r="3.1" fill="#F6BE86"/><circle cx="628.5" cy="651.8" r="3.1" fill="#E8533B"/><circle cx="635.6" cy="593.5" r="3.1" fill="#E8533B"/><circle cx="646.3" cy="589.4" r="3.1" fill="#F6BE86"/><circle cx="647.9" cy="673.8" r="3.1" fill="#E8533B"/><circle cx="651.2" cy="573.2" r="3.1" fill="#E8533B"/><circle cx="654.3" cy="573.2" r="3.1" fill="#F6BE86"/><circle cx="657.2" cy="593.5" r="3.1" fill="#F6BE86"/><circle cx="666.3" cy="713.1" r="3.1" fill="#E8533B"/><circle cx="670.2" cy="673.8" r="3.1" fill="#F6BE86"/><circle cx="674.2" cy="546.8" r="3.1" fill="#E8533B"/><circle cx="696.3" cy="713.1" r="3.1" fill="#F6BE86"/><circle cx="705.5" cy="694.2" r="3.1" fill="#E8533B"/><circle cx="710.2" cy="529.7" r="3.1" fill="#E8533B"/><circle cx="747.0" cy="529.7" r="3.1" fill="#F6BE86"/><circle cx="756.0" cy="546.8" r="3.1" fill="#F6BE86"/><circle cx="771.2" cy="694.2" r="3.1" fill="#F6BE86"/><path d="M436.2 509.1V835.3H787" fill="none" stroke="#3a3a3a" stroke-width="0.95"/><line x1="509.7" y1="835.3" x2="509.7" y2="839.6" stroke="#3a3a3a" stroke-width="0.95"/><text x="509.7" y="850.8" class="tk" text-anchor="middle">-0.03</text><line x1="597.4" y1="835.3" x2="597.4" y2="839.6" stroke="#3a3a3a" stroke-width="0.95"/><text x="597.4" y="850.8" class="tk" text-anchor="middle">0.00</text><line x1="685.1" y1="835.3" x2="685.1" y2="839.6" stroke="#3a3a3a" stroke-width="0.95"/><text x="685.1" y="850.8" class="tk" text-anchor="middle">0.03</text><line x1="772.8" y1="835.3" x2="772.8" y2="839.6" stroke="#3a3a3a" stroke-width="0.95"/><text x="772.8" y="850.8" class="tk" text-anchor="middle">0.06</text><line x1="431.8" y1="579.1" x2="436.2" y2="579.1" stroke="#3a3a3a" stroke-width="0.95"/><text x="427.8" y="582.6" class="tk" text-anchor="end">1</text><line x1="431.8" y1="654.8" x2="436.2" y2="654.8" stroke="#3a3a3a" stroke-width="0.95"/><text x="427.8" y="658.3" class="tk" text-anchor="end">0</text><line x1="431.8" y1="730.7" x2="436.2" y2="730.7" stroke="#3a3a3a" stroke-width="0.95"/><text x="427.8" y="734.2" class="tk" text-anchor="end">-1</text><line x1="431.8" y1="806.5" x2="436.2" y2="806.5" stroke="#3a3a3a" stroke-width="0.95"/><text x="427.8" y="810.0" class="tk" text-anchor="end">-2</text><text x="611.5" y="866.3" class="axx" text-anchor="middle">Residual signal amplitude in WM network 8</text><text transform="translate(413.2,671.8) rotate(-90)" class="ax" text-anchor="middle">Residual MoCA scores</text><text x="485.3" y="495.4" class="an">Band A: <tspan class="it">R</tspan> = 0.4507, <tspan class="it">P</tspan> = 0.0309</text><text x="485.3" y="516.2" class="an">Band C: <tspan class="it">R</tspan> = 0.4662, <tspan class="it">P</tspan> = 0.0250</text><rect x="546.4" y="875.7" width="14" height="14" fill="#E8E8E8"/><circle cx="553.4" cy="882.7" r="5.6" fill="#E8533B"/><text x="566.7" y="887.6" class="lg">Band A</text><rect x="627.2" y="875.7" width="14" height="14" fill="#E8E8E8"/><circle cx="634.2" cy="882.7" r="5.6" fill="#F6BE86"/><text x="647.6" y="887.6" class="lg">Band C</text><text x="405" y="469.9" class="pl">D</text></g>
</svg>
</body></html>
